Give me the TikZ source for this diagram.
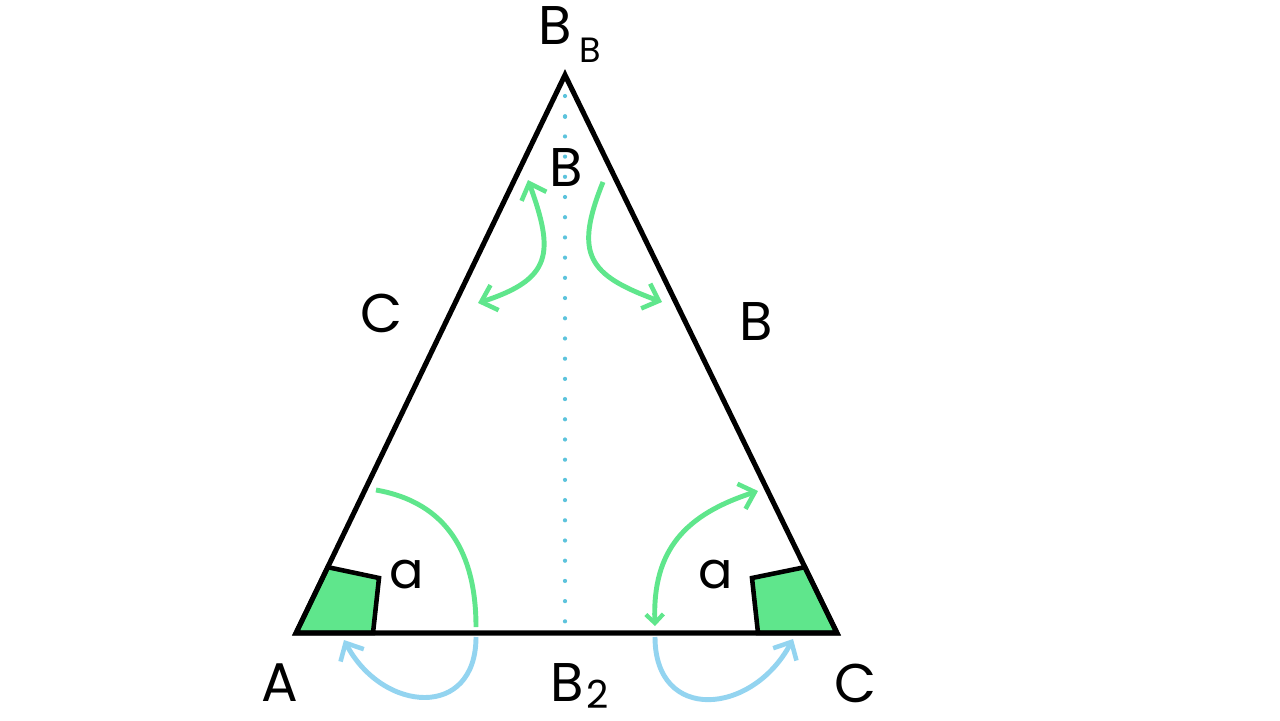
\documentclass[tikz,border=0pt]{standalone}
\usepackage{fontspec}
\setmainfont{Poppins}
\usepackage{tikz}
\usetikzlibrary{arrows.meta,calc}
\definecolor{mintgreen}{HTML}{5FE68C}
\definecolor{skyblue}{HTML}{93D4F0}
\definecolor{dotblue}{HTML}{5CC3DC}
\tikzset{every picture/.append style={x=0.02cm,y=-0.02cm}}
\tikzset{side/.style={line width=2.9pt, black, line join=miter}}
\tikzset{rightangle/.style={fill=mintgreen, draw=black, line width=2.6pt, line join=miter}}
\tikzset{barb/.tip={Straight Barb[length=8pt,width=15pt,line width=2.6pt]}}
\tikzset{smallbarb/.tip={Straight Barb[length=5pt,width=10pt,line width=2.4pt]}}
\tikzset{greenarc/.style={line width=2.8pt, mintgreen, -barb}}
\tikzset{bluearc/.style={line width=2.8pt, skyblue, -barb}}
\tikzset{midline/.style={line width=2.4pt, dotblue, line cap=round, dash pattern=on 0pt off 11.5pt}}
\tikzset{lbl/.style={font=\fontsize{31}{31}\selectfont, inner sep=0pt}}
\tikzset{smalllbl/.style={font=\fontsize{29}{29}\selectfont, inner sep=0pt}}

\begin{document}
\begin{tikzpicture}
\useasboundingbox (0,0) rectangle (1280,720);

\coordinate (A) at (296,633);
\coordinate (B) at (565,75);
\coordinate (C) at (837,633);
\coordinate (M) at (565,633);

%dotted middle line
\coordinate (mtop) at (565,96);
\coordinate (hl) at ($(B)!0.075!(A)$);
\coordinate (hr) at ($(B)!0.075!(C)$);
\draw[midline] (mtop)--(M);
\draw[midline] (hl)--(hr);

%right angle marks
\coordinate (a1) at (373,633);
\coordinate (a2) at (379,578);
\coordinate (a3) at ($(A)!0.118!(B)$);
\filldraw[rightangle] (A)--(a1)--(a2)--(a3)--cycle;
\coordinate (c1) at (758,633);
\coordinate (c2) at (752,578);
\coordinate (c3) at ($(C)!0.118!(B)$);
\filldraw[rightangle] (C)--(c1)--(c2)--(c3)--cycle;

\draw[side] (A)--(B)--(C)--cycle;

%arcs at the base corners
\coordinate (ag1) at (376,490);
\coordinate (ag2) at (476,627);
\draw[greenarc, -] (ag1) to[out=-10,in=90,looseness=1.1] (ag2);
\coordinate (ab1) at (476,637);
\coordinate (ab2) at (344,640);
\draw[bluearc] (ab1) to[out=-90,in=-62,looseness=1.6] (ab2);

\coordinate (cg1) at (655,626);
\coordinate (cg2) at (758,491);
\draw[greenarc, smallbarb-barb] (cg1) to[out=92,in=198,looseness=1.15] (cg2);
\coordinate (cb1) at (655,637);
\coordinate (cb2) at (793,639);
\draw[bluearc] (cb1) to[out=-90,in=-118,looseness=1.6] (cb2);

%arcs at the apex
\coordinate (bl1) at (528,180);
\coordinate (bl2) at (478,303);
\draw[greenarc, barb-barb] (bl1) to[out=-70,in=18,looseness=1.5] (bl2);
\coordinate (br1) at (603,182);
\coordinate (br2) at (662,302);
\draw[greenarc] (br1) to[out=-112,in=160,looseness=1.5] (br2);

%labels
\node (bb) at (555,26)[lbl]{B};
\node (bbsub) at (590,50)[lbl, font=\fontsize{20}{20}\selectfont]{B};
\node (bmid) at (566,168)[lbl]{B};
\node (cleft) at (382,313)[lbl]{C};
\node (bright) at (756,322)[lbl]{B};
\node (lA) at (280,683)[lbl]{A};
\node (lB2) at (567,683)[lbl]{B};
\node (lB2sub) at (598,694)[lbl, font=\fontsize{22}{22}\selectfont]{2};
\node (lC) at (856,683)[lbl]{C};
\node (aleft) at (407,575)[smalllbl]{a};
\node (aright) at (716,575)[smalllbl]{a};

\end{tikzpicture}
\end{document}
